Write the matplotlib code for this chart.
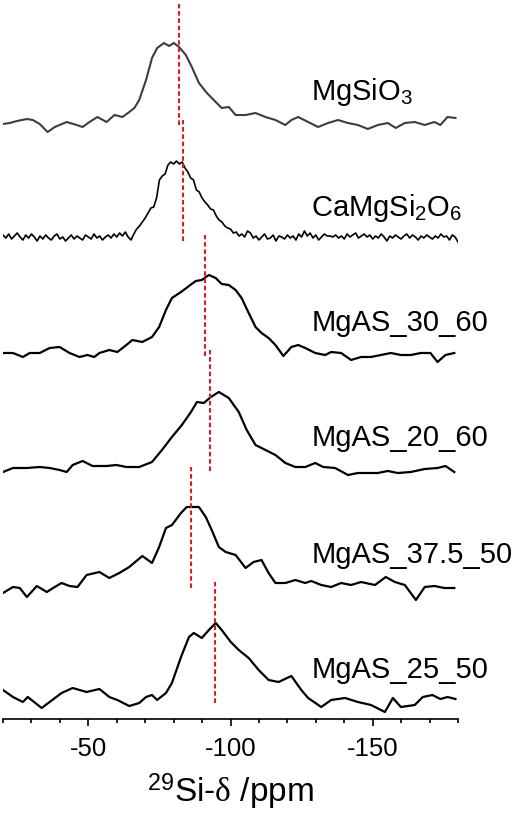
import numpy as np
import matplotlib
matplotlib.use("Agg")
import matplotlib.pyplot as plt

plt.rcParams['font.family'] = ['Liberation Sans', 'DejaVu Sans']
plt.rcParams['mathtext.fontset'] = 'custom'
plt.rcParams['mathtext.rm'] = 'Liberation Sans'
plt.rcParams['mathtext.it'] = 'Liberation Serif'
plt.rcParams['axes.unicode_minus'] = False

# sample names (top to bottom)
names = ['MgSiO$_3$', 'CaMgSi$_2$O$_6$', 'MgAS_30_60', 'MgAS_20_60',
         'MgAS_37.5_50', 'MgAS_25_50']

# peak positions marked by red dashes (ppm)
peak_pos = [-81.8, -83.2, -90.9, -92.7, -86.0, -94.4]

# spectra: chemical shift (ppm) and intensity (a.u.)
mgsio3_ppm = [-20, -22.4, -24.9, -28.4, -30.5, -32.9, -35.7, -38.2, -42.4, -45.9,
              -48.0, -50.4, -53.2, -56.4, -59.2, -62.0, -64.4, -66.2, -67.9, -70.3,
              -72.4, -74.2, -76.6, -78.4, -80.1, -81.9, -84.3, -86.4, -88.9, -91.7,
              -94.8, -96.9, -99.4, -101.8, -105.3, -108.8, -112.3, -115.8, -119.3, -121.4,
              -123.8, -127.3, -130.8, -134.3, -137.8, -141.3, -144.8, -148.3, -151.8, -155.3,
              -158.1, -161.3, -164.8, -168.3, -171.7, -173.8, -176.3, -179.1]
mgsio3_int = [-2, -1, 1, 3, 2, -2, -10, -5, 0, -3,
              -5, 0, 5, 0, 7, 5, 10, 14, 22, 42,
              64, 74, 79, 76, 79, 75, 67, 55, 39, 29,
              20, 14, 15, 7, 7, 9, 5, 2, -3, 2,
              5, 0, -5, -1, 2, -1, -3, -7, -3, -1,
              -6, -1, 0, -3, 0, -3, 5, 4]

# CaMgSi2O6 was recorded on a 1 ppm grid from -20 to -180 ppm
camg_ppm = np.arange(-20, -181, -1)
camg_int = [3, 0, 4, -1, 2, 5, 1, -2, 3, 0, 4, 1, -3, 2, -1, 3, 0, -2, 2, 4,
            -1, 1, -3, 0, 3, -1, 2, 0, -2, 3, 1, -1, 4, 0, 2, -2, 1, 3, 0, 4,
            1, 5, 2, 6, 1,
            -2, 4, 9, 12, 16, 20, 25, 30, 31, 40, 58, 62, 64, 73, 76, 74, 77, 74, 76,
            70, 66, 60, 58, 48, 46, 40, 36, 33, 29, 28, 22, 18, 16, 12, 10, 9, 5, 6,
            2, 4, 1, 7, 5, 0,
            2, -2, 1, 4, -1, 0, 3, -3, 2, 1, -1, 3, 0, 2, -2, 4, 1, 7, 2, 5,
            0, 3, -2, 1, 4, 2, 2, 1, 3, 0, 2, -1, 4, 1, 3, 5, 0, 2, 4, 1,
            3, -1, 2, 0, 4, 1, -3, 2, 0, 3, 1, -1, 2, 4, 0, 3, 1, -2, 2, 0,
            3, 1, -1, 2, 0, 4, 1, 2, -2, 3, 1, -4]

as3060_ppm = [-20, -23.5, -27.0, -29.4, -32.9, -36.4, -39.9, -43.4, -46.9, -49.7,
              -52.1, -53.9, -57.4, -60.2, -63.4, -65.5, -69.0, -72.4, -74.9, -77.3,
              -79.4, -82.6, -85.4, -87.8, -89.9, -92.4, -94.8, -96.9, -99.4, -101.8,
              -103.9, -106.4, -108.8, -110.9, -113.4, -115.8, -118.6, -121.4, -123.8, -126.3,
              -129.8, -133.3, -135.4, -138.9, -142.4, -145.9, -149.4, -152.9, -156.4, -159.9,
              -163.4, -166.9, -170.3, -172.8, -175.6, -178.7]
as3060_int = [0, 0, -4, 0, 0, 5, 6, 0, -4, -2,
              -4, 0, 3, 1, 8, 13, 11, 16, 26, 43,
              55, 61, 67, 72, 73, 78, 75, 69, 68, 63,
              55, 40, 26, 20, 15, 8, -3, 6, 8, 5,
              0, -2, 1, 0, -7, -4, -4, -2, 0, -2,
              -2, 0, 0, -9, -2, 0]

as2060_ppm = [-20, -23.5, -28.4, -32.9, -36.4, -39.9, -42.4, -44.5, -48.0, -51.5,
              -56.4, -59.9, -63.4, -67.9, -72.4, -75.9, -79.4, -82.9, -86.1, -88.2,
              -90.6, -93.1, -95.9, -99.4, -102.9, -105.7, -108.8, -112.3, -115.8, -119.3,
              -122.8, -126.3, -129.8, -132.6, -136.8, -141.3, -144.8, -148.3, -151.8, -155.3,
              -158.8, -163.4, -168.3, -172.8, -175.6, -178.7]
as2060_int = [-4, 0, 0, 1, 0, -2, -4, 3, 7, 2,
              2, 3, 1, 1, 6, 18, 31, 43, 56, 66,
              65, 71, 76, 70, 56, 38, 23, 18, 13, 5,
              1, 1, 5, 1, 0, -7, -5, -5, -5, -3,
              -5, -4, -1, 0, 2, -4]

as37550_ppm = [-20, -23.5, -25.9, -28.4, -31.9, -35.4, -38.2, -40.6, -43.4, -46.2,
               -49.4, -53.9, -57.4, -60.9, -64.4, -69.0, -72.4, -74.9, -77.3, -79.4,
               -82.6, -84.6, -88.9, -91.3, -93.4, -95.9, -98.3, -101.8, -105.3, -108.1,
               -110.9, -113.4, -115.8, -119.3, -122.8, -126.3, -128.4, -131.9, -135.4, -138.9,
               -142.4, -145.9, -150.8, -154.6, -157.8, -161.3, -165.2, -168.3, -171.7, -175.2,
               -178.7]
as37550_int = [-8, -2, -3, -12, -1, -7, -2, 2, -1, -2,
               10, 13, 7, 12, 18, 29, 22, 38, 57, 60,
               72, 78, 78, 68, 55, 38, 33, 30, 17, 23,
               25, 12, 2, 2, 5, 2, 4, 0, -2, 2,
               0, 3, 0, 8, 3, 0, -15, -2, -1, -3,
               -3]

as2550_ppm = [-20, -23.5, -27.0, -28.7, -33.6, -36.4, -40.6, -44.5, -49.4, -53.9,
              -57.4, -60.2, -64.4, -67.9, -70.3, -72.4, -74.2, -77.3, -79.4, -82.6,
              -85.4, -87.1, -89.9, -92.4, -94.8, -96.9, -100.1, -102.9, -106.4, -109.9,
              -113.4, -116.9, -121.4, -124.9, -127.3, -131.9, -135.4, -140.3, -144.8, -149.4,
              -154.3, -157.1, -159.9, -164.8, -167.6, -171.0, -173.8, -176.3, -179.1]
as2550_int = [10, 3, -2, 3, -8, -2, 7, 12, 8, 11,
              3, 0, -6, -3, 3, 5, 0, 7, 17, 43,
              63, 67, 62, 70, 77, 70, 58, 50, 42, 30,
              20, 18, 24, 10, 2, -7, 0, 2, -2, -5,
              -12, 2, -7, -5, 3, 5, 1, 3, 1]

spectra = [(mgsio3_ppm, mgsio3_int), (camg_ppm, camg_int), (as3060_ppm, as3060_int),
           (as2060_ppm, as2060_int), (as37550_ppm, as37550_int), (as2550_ppm, as2550_int)]

# vertical stacking
offsets = [597, 481, 366, 251, 134, 19]
colors = ['#3d3d3d', 'black', 'black', 'black', 'black', 'black']
widths = [1.5, 1.2, 1.6, 1.6, 1.6, 1.6]

fig = plt.figure(figsize=(5.2, 8.26), dpi=100)
ax = fig.add_axes([3 / 520, 107 / 826, 455 / 520, 719 / 826])

for (x, y), off, c, lw, name, pk in zip(spectra, offsets, colors, widths, names, peak_pos):
    ax.plot(x, np.array(y) + off, color=c, lw=lw, zorder=2)
    ax.plot([pk, pk], [off - 3, off + 118], color='#d11f2b', lw=1.5,
            linestyle=(0, (2.2, 1.3)), zorder=3)
    ax.text(-128.4, off + 22, name, fontsize=21, va='baseline', ha='left')

ax.set_xlim(-20, -180)
ax.set_ylim(0, 719)
ax.set_xticks([-50, -100, -150])
ax.set_xticks(np.arange(-20, -181, -10), minor=True)
ax.set_yticks([])
for s in ['left', 'right', 'top']:
    ax.spines[s].set_visible(False)
ax.spines['bottom'].set_linewidth(1.2)
ax.tick_params(axis='x', which='major', length=5, width=1.2, labelsize=18.5, pad=8)
ax.tick_params(axis='x', which='minor', length=3, width=1.2)
ax.set_xlabel(r'$^{29}$Si-$\delta$ /ppm', fontsize=24, labelpad=8)

fig.savefig('out.png', dpi=100)
